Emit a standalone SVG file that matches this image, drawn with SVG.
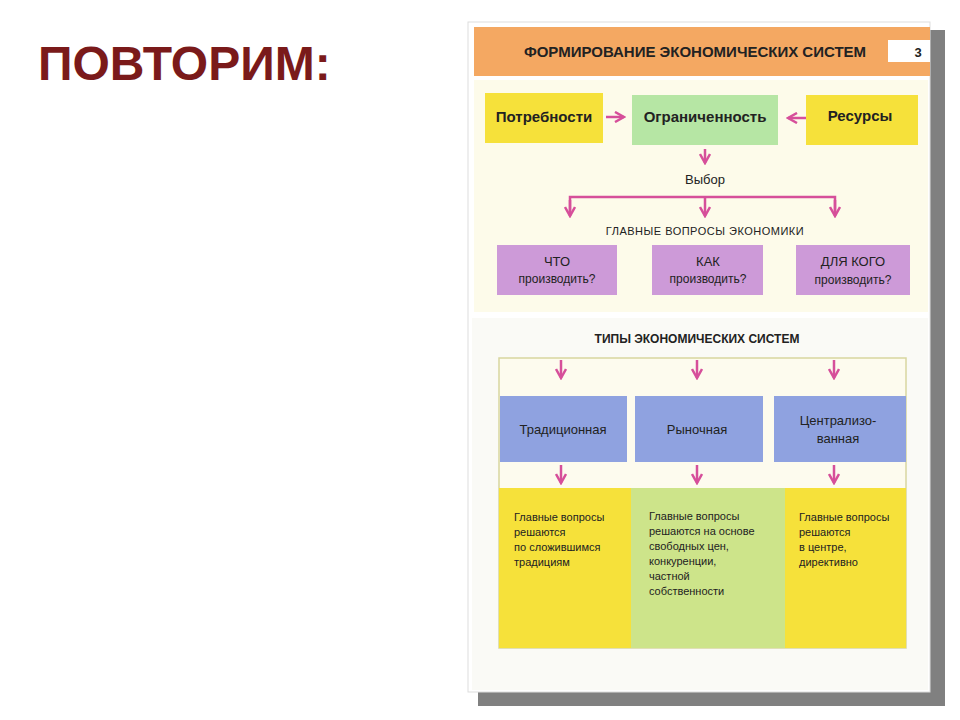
<svg xmlns="http://www.w3.org/2000/svg" width="960" height="720" viewBox="0 0 960 720">
<defs>
<marker id="ah" viewBox="0 0 12 12" refX="10" refY="6" markerWidth="12" markerHeight="12" markerUnits="userSpaceOnUse" orient="auto"><path d="M1,1 L10,6 L1,11" fill="none" stroke="#d64f9a" stroke-width="2.5"/></marker>
<style>
.t{font-family:"Liberation Sans",Arial,sans-serif;fill:#222}
.b{font-weight:bold}
.c{stroke:#d64f9a;stroke-width:2.5;fill:none}
.a{marker-end:url(#ah)}
</style>
</defs>
<rect width="960" height="720" fill="#fff"/>
<text x="38" y="80" font-family="Liberation Sans,Arial,sans-serif" font-weight="bold" font-size="48" fill="#7a1a1a">ПОВТОРИМ:</text>
<rect x="478" y="30" width="467" height="676" fill="#808080"/>
<rect x="468" y="22" width="462" height="670" fill="#fff" stroke="#ddd"/>
<rect x="474" y="80" width="454" height="232" fill="#fdfbea"/>
<rect x="472" y="318" width="456" height="372" fill="#fafaf6"/>
<g id="title"><rect x="474" y="27" width="456" height="49" fill="#f4a862"/><rect x="888" y="40" width="42" height="22" fill="#fff"/>
<text class="t b" x="695" y="57" font-size="15" text-anchor="middle">ФОРМИРОВАНИЕ ЭКОНОМИЧЕСКИХ СИСТЕМ</text><text class="t b" x="918" y="57" font-size="13" text-anchor="middle">3</text></g>
<g id="n1"><rect x="485" y="93" width="118" height="50" fill="#f6e13a"/><text class="t b" x="544" y="122" font-size="15" text-anchor="middle">Потребности</text></g>
<g id="n2"><rect x="632" y="95" width="146" height="50" fill="#b6e6a4"/><text class="t b" x="705" y="122" font-size="15" text-anchor="middle">Ограниченность</text></g>
<g id="n3"><rect x="806" y="95" width="112" height="50" fill="#f6e13a"/><text class="t b" x="860" y="121" font-size="15" text-anchor="middle">Ресурсы</text></g>
<text class="t" x="705" y="184" font-size="13" text-anchor="middle">Выбор</text>
<text class="t" x="705" y="235" font-size="11" text-anchor="middle" letter-spacing="0.5">ГЛАВНЫЕ ВОПРОСЫ ЭКОНОМИКИ</text>
<g id="q1"><rect x="497" y="245" width="120" height="50" fill="#cd9ad8"/><text class="t" x="557" y="266" font-size="13" text-anchor="middle">ЧТО</text><text class="t" x="557" y="283" font-size="12" text-anchor="middle">производить?</text></g>
<g id="q2"><rect x="652" y="245" width="111" height="50" fill="#cd9ad8"/><text class="t" x="708" y="266" font-size="13" text-anchor="middle">КАК</text><text class="t" x="708" y="283" font-size="12" text-anchor="middle">производить?</text></g>
<g id="q3"><rect x="796" y="245" width="114" height="50" fill="#cd9ad8"/><text class="t" x="853" y="266" font-size="13" text-anchor="middle">ДЛЯ КОГО</text><text class="t" x="853" y="284" font-size="12" text-anchor="middle">производить?</text></g>
<text class="t b" x="697" y="343" font-size="12" text-anchor="middle">ТИПЫ ЭКОНОМИЧЕСКИХ СИСТЕМ</text>
<rect x="499" y="358" width="407" height="290" fill="#fdfbee" stroke="#d8d6a0" stroke-width="1.5"/>
<g id="s1"><rect x="500" y="396" width="127" height="66" fill="#8fa2e0"/><text class="t" x="563" y="434" font-size="13" text-anchor="middle">Традиционная</text></g>
<g id="s2"><rect x="635" y="396" width="128" height="66" fill="#8fa2e0"/><text class="t" x="697" y="434" font-size="13" text-anchor="middle">Рыночная</text></g>
<g id="s3"><rect x="774" y="396" width="132" height="66" fill="#8fa2e0"/><text class="t" x="838" y="425" font-size="13" text-anchor="middle">Централизо-</text><text class="t" x="838" y="443" font-size="13" text-anchor="middle">ванная</text></g>
<g id="d1"><rect x="499" y="488" width="132" height="160" fill="#f6e13a"/><text class="t" font-size="11"><tspan x="514" y="521">Главные вопросы</tspan><tspan x="514" y="536">решаются</tspan><tspan x="514" y="551">по сложившимся</tspan><tspan x="514" y="566">традициям</tspan></text></g>
<g id="d2"><rect x="631" y="488" width="154" height="160" fill="#cde48a"/><text class="t" font-size="11"><tspan x="649" y="520">Главные вопросы</tspan><tspan x="649" y="535">решаются на основе</tspan><tspan x="649" y="550">свободных цен,</tspan><tspan x="649" y="565">конкуренции,</tspan><tspan x="649" y="580">частной</tspan><tspan x="649" y="595">собственности</tspan></text></g>
<g id="d3"><rect x="785" y="488" width="121" height="160" fill="#f6e13a"/><text class="t" font-size="11"><tspan x="799" y="521">Главные вопросы</tspan><tspan x="799" y="536">решаются</tspan><tspan x="799" y="551">в центре,</tspan><tspan x="799" y="566">директивно</tspan></text></g>
<g id="connectors">
<line class="c a" x1="606" y1="117" x2="624" y2="117"/>
<line class="c a" x1="806" y1="118" x2="788" y2="118"/>
<line class="c a" x1="705" y1="149" x2="705" y2="163"/>
<path class="c" d="M570,215 V197 H835 V215"/>
<line class="c a" x1="570" y1="200" x2="570" y2="216"/>
<line class="c a" x1="705" y1="197" x2="705" y2="216"/>
<line class="c a" x1="835" y1="200" x2="835" y2="216"/>
<line class="c a" x1="561" y1="360" x2="561" y2="378"/>
<line class="c a" x1="697" y1="360" x2="697" y2="378"/>
<line class="c a" x1="834" y1="360" x2="834" y2="378"/>
<line class="c a" x1="561" y1="465" x2="561" y2="483"/>
<line class="c a" x1="697" y1="465" x2="697" y2="483"/>
<line class="c a" x1="834" y1="465" x2="834" y2="483"/>
</g>
</svg>
